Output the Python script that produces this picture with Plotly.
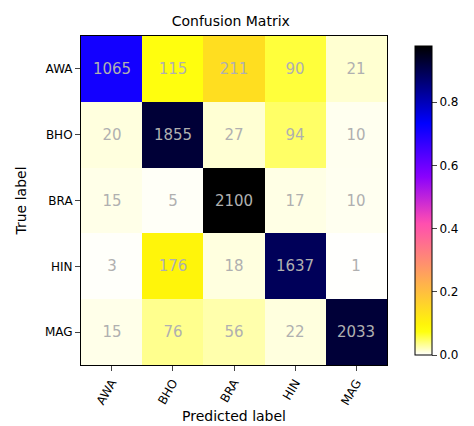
import numpy as np
import plotly.graph_objects as go

labels = ["AWA", "BHO", "BRA", "HIN", "MAG"]
counts = [
    [1065, 115, 211, 90, 21],
    [20, 1855, 27, 94, 10],
    [15, 5, 2100, 17, 10],
    [3, 176, 18, 1637, 1],
    [15, 76, 56, 22, 2033],
]

cm = np.array(counts, dtype=float)
norm = cm / cm.sum(axis=1, keepdims=True)

def gnuplot2(x):
    r = np.clip(x / 0.32 - 0.78125, 0, 1)
    g = np.clip(2 * x - 0.84, 0, 1)
    if x < 0.25:
        b = 4 * x
    elif x < 0.92:
        b = -2 * x + 1.84
    else:
        b = x / 0.08 - 11.5
    b = np.clip(b, 0, 1)
    return "rgb(%d,%d,%d)" % (r * 255, g * 255, b * 255)

vmax = norm.max()
cs = []
for t in np.linspace(0, 1, 41):
    cs.append([t, gnuplot2(1 - t)])

fig = go.Figure(go.Heatmap(
    z=norm, x=labels, y=labels, colorscale=cs, zmin=0, zmax=vmax,
    text=cm.astype(int), texttemplate="%{text}",
    textfont=dict(color="#b0b0b0", size=15),
    colorbar=dict(thickness=17, len=1.0, y=0.5, yanchor="middle", x=1.06,
                  tickvals=[0, 0.2, 0.4, 0.6, 0.8], tickformat=".1f",
                  ticks="outside", outlinecolor="black", outlinewidth=1,
                  tickfont=dict(size=12)),
))
fig.update_layout(
    width=474, height=426, paper_bgcolor="white", plot_bgcolor="white",
    font=dict(family="DejaVu Sans", color="black", size=12),
    title=dict(text="Confusion Matrix", x=0.47, xanchor="center", y=0.98, font=dict(size=14)),
    margin=dict(l=58, r=79, t=28, b=46),
)
fig.update_xaxes(title=dict(text="Predicted label", standoff=4), tickangle=-60, ticks="outside",
                 showline=True, linecolor="black", mirror=True)
fig.update_yaxes(title=dict(text="True label"), autorange="reversed", ticks="outside",
                 showline=True, linecolor="black", mirror=True)
fig.write_html("out.html")
